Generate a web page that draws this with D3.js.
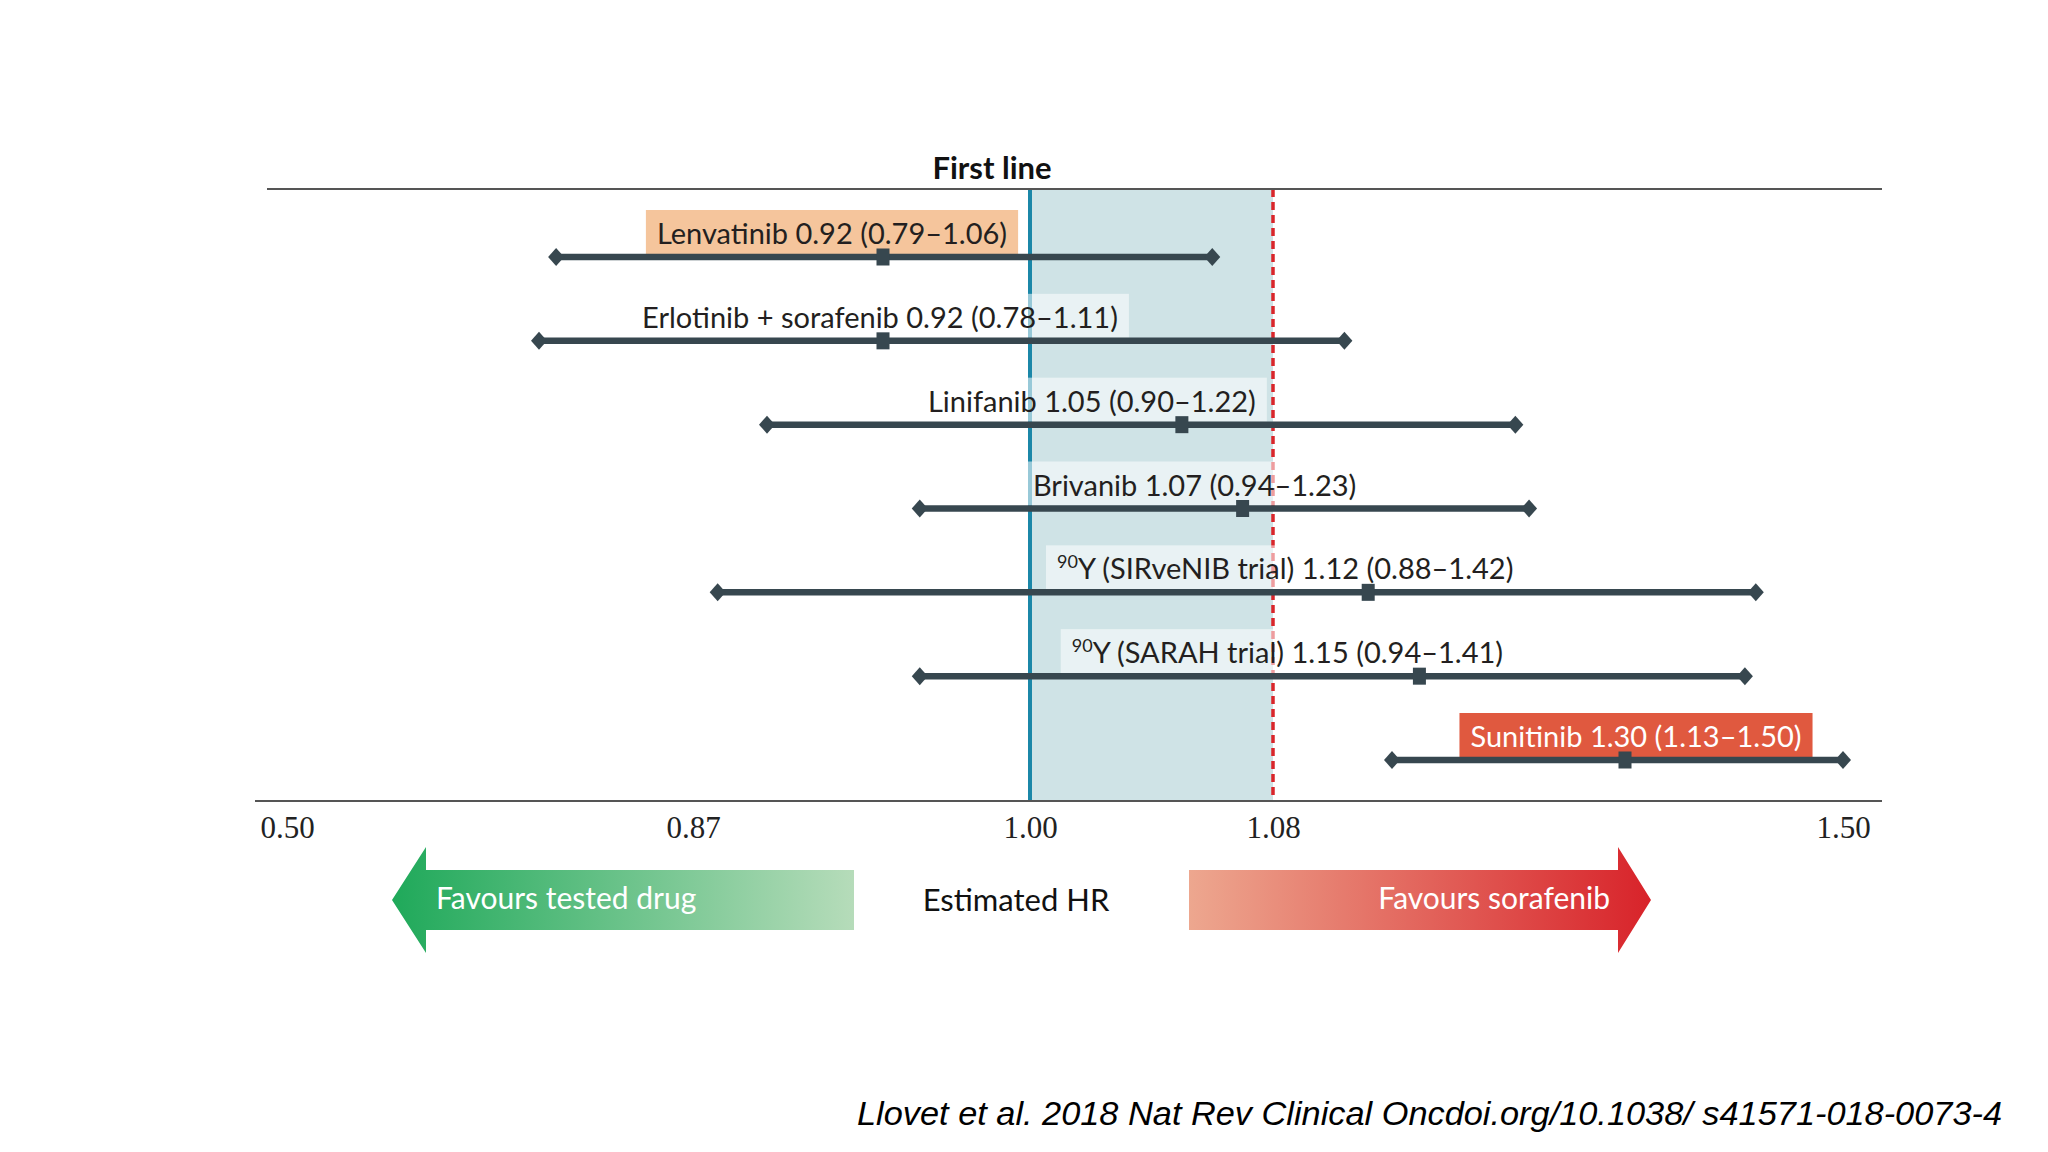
<!DOCTYPE html>
<html>
<head>
<meta charset="utf-8">
<script src="https://cdn.jsdelivr.net/npm/d3@7"></script>
<style>
  body { margin: 0; background: #fff; }
</style>
</head>
<body>
<script>
// data: first-line trials vs sorafenib
var prefix = ['', '', '', '', '90', '90', '']
var names = ['Lenvatinib', 'Erlotinib + sorafenib', 'Linifanib', 'Brivanib', 'Y (SIRveNIB trial)', 'Y (SARAH trial)', 'Sunitinib']
var hr = [0.92, 0.92, 1.05, 1.07, 1.12, 1.15, 1.30]
var lo = [0.79, 0.78, 0.90, 0.94, 0.88, 0.94, 1.13]
var hi = [1.06, 1.11, 1.22, 1.23, 1.42, 1.41, 1.50]
var verdict = ['better', 'ns', 'ns', 'ns', 'ns', 'ns', 'worse']
var tickValues = [0.50, 0.87, 1.00, 1.08, 1.50]
var refHR = 1.00
var estimatedHR = 1.08

// layout
var w = 2048
var h = 1152
var plotTop = 189
var plotBottom = 801
var labelShift = [-51, -3, -90, -48, -83, -132, 11]
var boxFill = { better: '#f5c59c', ns: 'rgba(255,255,255,0.55)', worse: '#e0593f' }
var textFill = { better: '#231f20', ns: '#231f20', worse: '#ffffff' }
var ink = '#37474f'

var svg = d3.select('body')
  .append('svg')
  .attr('width', w)
  .attr('height', h)

svg.append('rect').attr('width', w).attr('height', h).attr('fill', '#fff')

// the HR axis of the figure is schematic, not proportional
var xScale = d3.scaleLinear()
  .domain([0.50, 0.78, 0.87, 0.90, 0.92, 1.00, 1.08, 1.13, 1.30, 1.50])
  .range([287, 539, 693, 767, 883, 1030, 1273, 1392, 1625, 1843])

var yScale = d3.scalePoint()
  .domain(d3.range(names.length))
  .range([257, 760])

var rows = d3.range(names.length).map(function (i) {
  return {
    i: i,
    prefix: prefix[i],
    label: names[i] + ' ' + hr[i].toFixed(2) + ' (' + lo[i].toFixed(2) + '\u2013' + hi[i].toFixed(2) + ')',
    hr: hr[i],
    lo: lo[i],
    hi: hi[i],
    verdict: verdict[i]
  }
})

// shaded band between 1.00 and estimated HR
svg.append('rect')
  .attr('x', xScale(refHR))
  .attr('y', plotTop)
  .attr('width', xScale(estimatedHR) - xScale(refHR))
  .attr('height', plotBottom - plotTop)
  .attr('fill', '#cfe3e6')

svg.append('line')
  .attr('x1', xScale(refHR)).attr('x2', xScale(refHR))
  .attr('y1', plotTop).attr('y2', plotBottom)
  .attr('stroke', '#1b87a8')
  .attr('stroke-width', 4)

svg.append('line')
  .attr('x1', xScale(estimatedHR)).attr('x2', xScale(estimatedHR))
  .attr('y1', plotTop).attr('y2', plotBottom)
  .attr('stroke', '#d9262b')
  .attr('stroke-width', 3.5)
  .attr('stroke-dasharray', '8,5')

// top rule + title
svg.append('line')
  .attr('x1', 267).attr('x2', 1882)
  .attr('y1', plotTop).attr('y2', plotTop)
  .attr('stroke', '#555').attr('stroke-width', 2)

svg.append('text')
  .text('First line')
  .attr('x', 992)
  .attr('y', 179)
  .attr('text-anchor', 'middle')
  .attr('font-family', 'Lato, sans-serif')
  .attr('font-weight', 'bold')
  .attr('font-size', '31px')
  .attr('fill', '#111')

// labels
var labels = svg.selectAll('g.label')
  .data(rows)
  .enter()
  .append('g')
  .attr('class', 'label')

labels.each(function (d) {
  var g = d3.select(this)
  var cy = yScale(d.i)
  var t = g.append('text')
    .attr('x', xScale(d.hr) + labelShift[d.i])
    .attr('y', cy - 13)
    .attr('text-anchor', 'middle')
    .attr('font-family', 'Lato, sans-serif')
    .attr('font-size', '29px')
    .attr('fill', textFill[d.verdict])
  if (d.prefix) {
    t.append('tspan').text(d.prefix).attr('font-size', '18px').attr('dy', -11)
    t.append('tspan').text(d.label).attr('dy', 11)
  } else {
    t.text(d.label)
  }
  var bb = t.node().getBBox()
  g.insert('rect', 'text')
    .attr('x', bb.x - 11)
    .attr('y', cy - 47)
    .attr('width', bb.width + 22)
    .attr('height', 44)
    .attr('fill', boxFill[d.verdict])
})

// CI lines
svg.selectAll('line.ci')
  .data(rows)
  .enter()
  .append('line')
  .attr('class', 'ci')
  .attr('x1', function (d) { return xScale(d.lo) })
  .attr('x2', function (d) { return xScale(d.hi) })
  .attr('y1', function (d) { return yScale(d.i) })
  .attr('y2', function (d) { return yScale(d.i) })
  .attr('stroke', ink)
  .attr('stroke-width', 6.5)

// diamond caps
var ends = []
rows.forEach(function (d) {
  ends.push({ v: d.lo, i: d.i })
  ends.push({ v: d.hi, i: d.i })
})

svg.selectAll('path.cap')
  .data(ends)
  .enter()
  .append('path')
  .attr('class', 'cap')
  .attr('d', function (d) {
    var cx = xScale(d.v)
    var cy = yScale(d.i)
    return 'M' + (cx - 8) + ',' + cy + 'L' + cx + ',' + (cy - 9) +
      'L' + (cx + 8) + ',' + cy + 'L' + cx + ',' + (cy + 9) + 'Z'
  })
  .attr('fill', ink)

// point estimates
svg.selectAll('rect.pt')
  .data(rows)
  .enter()
  .append('rect')
  .attr('class', 'pt')
  .attr('x', function (d) { return xScale(d.hr) - 6.5 })
  .attr('y', function (d) { return yScale(d.i) - 8.5 })
  .attr('width', 13)
  .attr('height', 17)
  .attr('fill', ink)

// bottom axis
svg.append('line')
  .attr('x1', 255).attr('x2', 1882)
  .attr('y1', plotBottom).attr('y2', plotBottom)
  .attr('stroke', '#555').attr('stroke-width', 2)

var axis = d3.axisBottom(xScale)
  .tickValues(tickValues)
  .tickSize(0)
  .tickPadding(0)
  .tickFormat(d3.format('.2f'))

var gAxis = svg.append('g')
  .attr('transform', 'translate(0,' + (plotBottom + 15) + ')')
  .call(axis)
gAxis.select('.domain').remove()
gAxis.selectAll('text')
  .attr('font-family', '"Liberation Serif", serif')
  .attr('font-size', '31px')
  .attr('fill', '#222')
  .attr('dy', '0.7em')

// direction arrows
var defs = svg.append('defs')
var gGreen = defs.append('linearGradient').attr('id', 'gGreen')
gGreen.append('stop').attr('offset', '0%').attr('stop-color', '#1fa95a')
gGreen.append('stop').attr('offset', '100%').attr('stop-color', '#b6dcba')
var gRed = defs.append('linearGradient').attr('id', 'gRed')
gRed.append('stop').attr('offset', '0%').attr('stop-color', '#eda78f')
gRed.append('stop').attr('offset', '100%').attr('stop-color', '#d8232a')

var ay = 900
var bodyH = 30
var headH = 53
var line = d3.line()

svg.append('path')
  .attr('d', line([[392, ay], [426, ay - headH], [426, ay - bodyH], [854, ay - bodyH],
    [854, ay + bodyH], [426, ay + bodyH], [426, ay + headH]]) + 'Z')
  .attr('fill', 'url(#gGreen)')

svg.append('path')
  .attr('d', line([[1651, ay], [1618, ay - headH], [1618, ay - bodyH], [1189, ay - bodyH],
    [1189, ay + bodyH], [1618, ay + bodyH], [1618, ay + headH]]) + 'Z')
  .attr('fill', 'url(#gRed)')

svg.append('text')
  .text('Favours tested drug')
  .attr('x', 436).attr('y', 909)
  .attr('font-family', 'Lato, sans-serif')
  .attr('font-size', '30px')
  .attr('fill', '#fff')

svg.append('text')
  .text('Favours sorafenib')
  .attr('x', 1610).attr('y', 909)
  .attr('text-anchor', 'end')
  .attr('font-family', 'Lato, sans-serif')
  .attr('font-size', '30px')
  .attr('fill', '#fff')

svg.append('text')
  .text('Estimated HR')
  .attr('x', 1016).attr('y', 911)
  .attr('text-anchor', 'middle')
  .attr('font-family', 'Lato, sans-serif')
  .attr('font-size', '31px')
  .attr('fill', '#111')

// source
svg.append('text')
  .text('Llovet et al. 2018 Nat Rev Clinical Oncdoi.org/10.1038/ s41571-018-0073-4')
  .attr('x', 2002).attr('y', 1125)
  .attr('text-anchor', 'end')
  .attr('font-family', '"Liberation Sans", Arial, sans-serif')
  .attr('font-style', 'italic')
  .attr('font-size', '33px')
  .attr('textLength', 1145)
  .attr('lengthAdjust', 'spacingAndGlyphs')
  .attr('fill', '#000')
</script>
</body>
</html>
